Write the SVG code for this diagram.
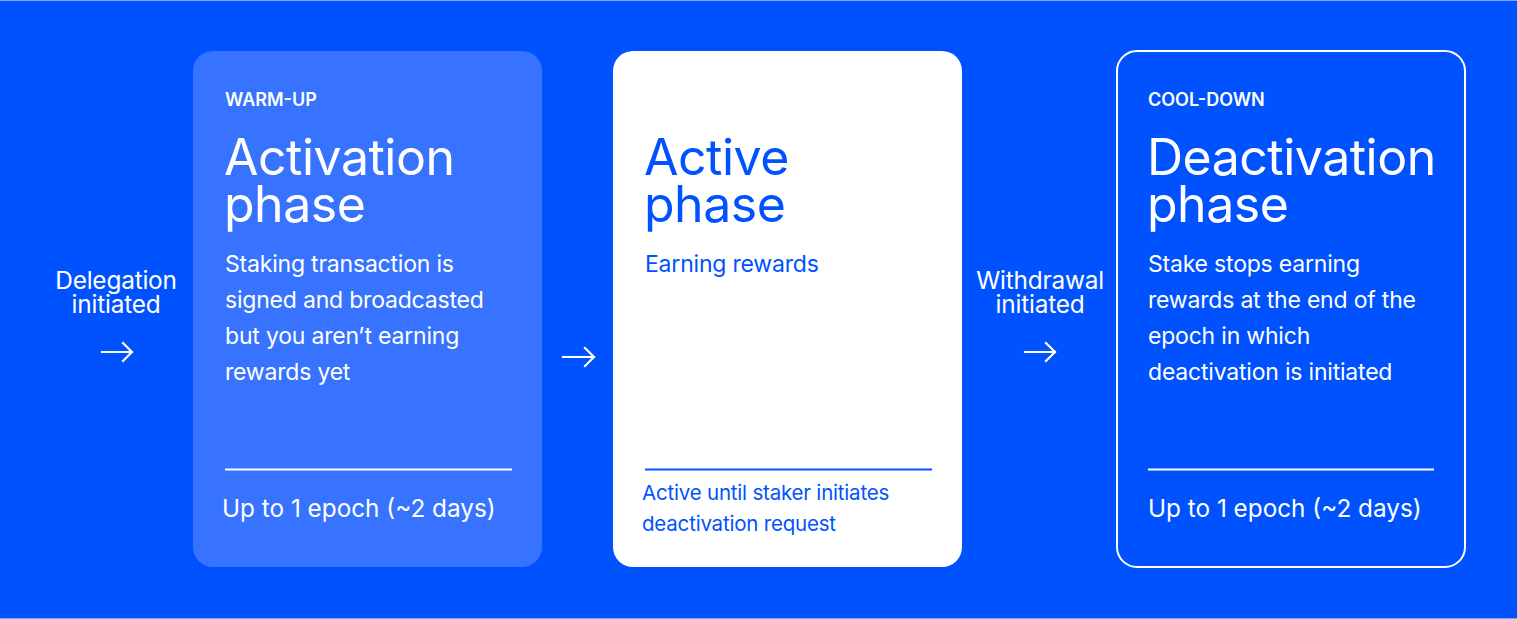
<svg xmlns="http://www.w3.org/2000/svg" width="1517" height="619" viewBox="0 0 1517 619">
<style>
text{font-family:Inter,"Noto Sans",sans-serif}
.tag{font-size:18px;font-weight:600;fill:#fff}
.title{font-size:50px;font-weight:400;fill:#fff;letter-spacing:-0.5px}
.body{font-size:23px;fill:#fff;letter-spacing:-0.2px}
.foot{font-size:24.3px;fill:#fff}
.small{font-size:20.5px;fill:#0052FF;letter-spacing:-0.2px}
.lbl{font-size:24.4px;fill:#fff;text-anchor:middle;letter-spacing:-0.2px}
.blue{fill:#0052FF}
.arr{stroke:#fff;stroke-width:2.2;fill:none;stroke-linecap:square}
</style>
<rect width="1517" height="619" fill="#0052FF"/>
<rect x="0" y="0" width="1517" height="1" fill="#7FA3FF"/>
<rect x="0" y="618" width="1517" height="1" fill="#7FA3FF"/>
<g id="activation">
<rect x="193" y="51" width="349" height="516" rx="20" fill="#3773FF"/>
<text class="tag" x="225" y="106">WARM-UP</text>
<text class="title" x="224" y="175">Activation</text>
<text class="title" x="224" y="222">phase</text>
<text class="body" x="225" y="272">Staking transaction is</text>
<text class="body" x="225" y="308">signed and broadcasted</text>
<text class="body" x="225" y="344">but you aren’t earning</text>
<text class="body" x="225" y="380">rewards yet</text>
<line x1="225" y1="469.5" x2="512" y2="469.5" stroke="#fff" stroke-width="2"/>
<text class="foot" x="222" y="517">Up to 1 epoch (~2 days)</text>
</g>
<g id="active">
<rect x="613" y="51" width="349" height="516" rx="20" fill="#fff"/>
<text class="title blue" x="644" y="175">Active</text>
<text class="title blue" x="644" y="222">phase</text>
<text class="body blue" x="645" y="272">Earning rewards</text>
<line x1="645" y1="469.5" x2="932" y2="469.5" stroke="#0052FF" stroke-width="2"/>
<text class="small" x="642" y="500">Active until staker initiates</text>
<text class="small" x="642" y="531">deactivation request</text>
</g>
<g id="deactivation">
<rect x="1117" y="51" width="348" height="516" rx="20" fill="none" stroke="#fff" stroke-width="2"/>
<text class="tag" x="1148" y="106">COOL-DOWN</text>
<text class="title" x="1147" y="175">Deactivation</text>
<text class="title" x="1147" y="222">phase</text>
<text class="body" x="1148" y="272">Stake stops earning</text>
<text class="body" x="1148" y="308">rewards at the end of the</text>
<text class="body" x="1148" y="344">epoch in which</text>
<text class="body" x="1148" y="380">deactivation is initiated</text>
<line x1="1148" y1="469.5" x2="1434" y2="469.5" stroke="#fff" stroke-width="2"/>
<text class="foot" x="1148" y="517">Up to 1 epoch (~2 days)</text>
</g>
<g id="delegation">
<text class="lbl" x="116" y="289">Delegation</text>
<text class="lbl" x="116" y="313">initiated</text>
</g>
<g id="withdrawal">
<text class="lbl" x="1040" y="289">Withdrawal</text>
<text class="lbl" x="1040" y="313">initiated</text>
</g>
<g id="connectors">
<path class="arr" d="M102 352H132M123 343L132 352L123 361"/>
<path class="arr" d="M563 357H594M585 348L594 357L585 366"/>
<path class="arr" d="M1025 352H1055M1046 343L1055 352L1046 361"/>
</g>
</svg>
